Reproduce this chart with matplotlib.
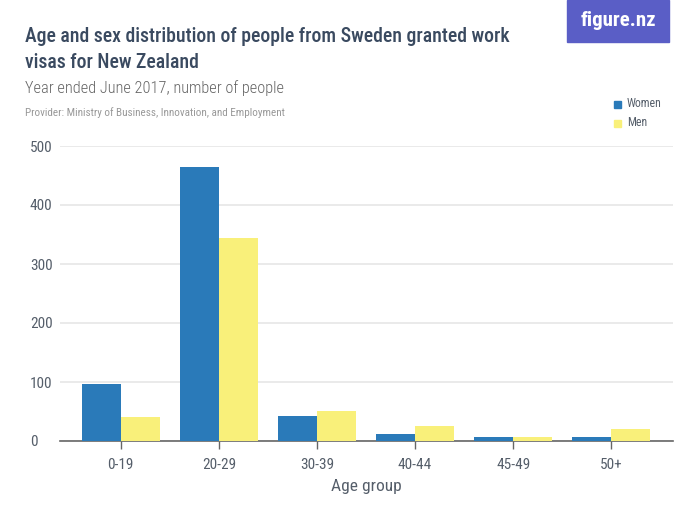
import matplotlib.pyplot as plt
import numpy as np
from matplotlib.patches import Rectangle
from matplotlib import font_manager

# data
age_groups = ["0-19", "20-29", "30-39", "40-44", "45-49", "50+"]
women = [97, 464, 42, 12, 7, 7]
men = [41, 344, 51, 25, 7, 20]
yticks = [0, 100, 200, 300, 400, 500]

names = {f.name for f in font_manager.fontManager.ttflist}
font = "Roboto"
for cand in ["Roboto Condensed", "Archivo Narrow", "PT Sans Narrow", "Liberation Sans Narrow"]:
    if cand in names:
        font = cand
        break
plt.rcParams["font.family"] = [font, "DejaVu Sans"]

blue = "#2a7ab9"
yellow = "#f9f07a"
title_col = "#3a4a60"
text_col = "#555e6a"

fig = plt.figure(figsize=(7, 5.25), dpi=100)
W, H = 700, 525
ax = fig.add_axes([60 / W, 1 - 441 / H, 613 / W, 295 / H])

x = np.arange(len(age_groups))
bw = 0.4
ax.bar(x - bw / 2, women, bw, color=blue, zorder=3)
ax.bar(x + bw / 2, men, bw, color=yellow, zorder=3)

ax.set_xlim(-0.62, 5.63)
ax.set_ylim(0, 500)
ax.set_yticks(yticks)
ax.yaxis.grid(True, color="#e6e6e6", linewidth=1.2, zorder=0)
ax.tick_params(axis="y", length=0, labelsize=11, labelcolor=text_col, pad=21.6)
for lab in ax.get_yticklabels():
    lab.set_horizontalalignment("left")
ax.set_xticks(x)
ax.set_xticklabels(age_groups)
ax.tick_params(axis="x", length=6, width=1, color="#666666", labelsize=11,
               labelcolor=text_col, pad=6)
for s in ["top", "right", "left"]:
    ax.spines[s].set_visible(False)
ax.spines["bottom"].set_color("#666666")
ax.spines["bottom"].set_linewidth(1.2)
ax.set_xlabel("Age group", fontsize=12.5, color=text_col, labelpad=5)

# titles
fig.text(25 / W, 1 - 37 / H, "Age and sex distribution of people from Sweden granted work",
         fontsize=14.2, color=title_col, va="center", fontweight="medium")
fig.text(25 / W, 1 - 62 / H, "visas for New Zealand",
         fontsize=14.2, color=title_col, va="center", fontweight="medium")
fig.text(25 / W, 1 - 88 / H, "Year ended June 2017, number of people",
         fontsize=11.8, color="#666666", va="center", fontweight="light")
fig.text(25 / W, 1 - 113 / H, "Provider: Ministry of Business, Innovation, and Employment",
         fontsize=8, color="#999999", va="center")

# logo
fig.patches.append(Rectangle((567 / W, 1 - 42 / H), 102 / W, 42 / H,
                             transform=fig.transFigure, color="#5a5ec6", zorder=0))
fig.text(618 / W, 1 - 20 / H, "figure.nz", fontsize=15, color="white",
         ha="center", va="center", fontweight="bold")

# legend
fig.patches.append(Rectangle((614 / W, 1 - 108 / H), 7 / W, 7 / H,
                             transform=fig.transFigure, color=blue))
fig.patches.append(Rectangle((614 / W, 1 - 127 / H), 7 / W, 7 / H,
                             transform=fig.transFigure, color=yellow))
fig.text(627 / W, 1 - 103 / H, "Women", fontsize=8.5, color=text_col, va="center")
fig.text(627 / W, 1 - 122 / H, "Men", fontsize=8.5, color=text_col, va="center")

fig.savefig("out.png", dpi=100)
